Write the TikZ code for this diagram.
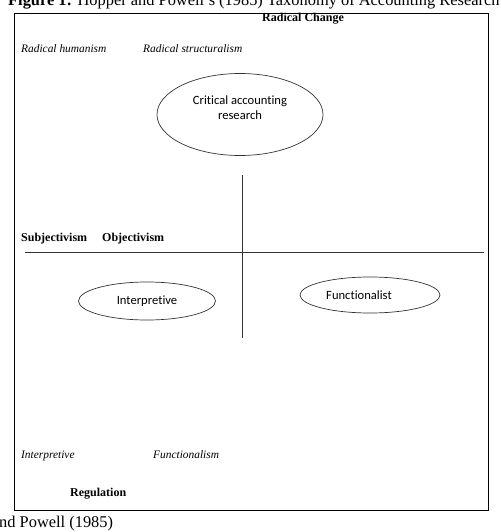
\documentclass[tikz,border=0pt]{standalone}
\usepackage{fontspec}
\setmainfont{Liberation Serif}
\newfontfamily\calibri[Ligatures=NoCommon]{Carlito}
\usetikzlibrary{shapes.geometric,positioning}

\begin{document}
\begin{tikzpicture}[
    x=1pt, y=-1pt,
    oval/.style={draw, ellipse, line width=0.7pt, draw=black!80, inner sep=0pt, font=\calibri\fontsize{12.6}{15}\selectfont, align=center},
    axislabel/.style={inner sep=0pt, anchor=base west, font=\bfseries\fontsize{12}{14}\selectfont},
    paradigm/.style={inner sep=0pt, anchor=base west, font=\itshape\fontsize{11.4}{13}\selectfont},
    axis/.style={line width=0.8pt, draw=black!80},
]
\useasboundingbox (0,0) rectangle (500,532);

% Title (cut at the top)
\node[inner sep=0pt, anchor=base west, font=\fontsize{16.4}{19}\selectfont] (title) at (8,6)
  {\textbf{Figure 1:} Hopper and Powell's (1985) Taxonomy of Accounting Research};

% Frame
\draw[line width=0.8pt] (14,13) rectangle (488,510);

% Top labels
\node[axislabel, anchor=base] (radchange) at (303,22) {Radical Change};
\node[paradigm] (humanism) at (21,53) {Radical humanism};
\node[paradigm] (structuralism) at (143,53) {Radical structuralism};

% Critical accounting research
\node[oval, minimum width=166pt, minimum height=82pt] (critical) at (240,114.5) {};
\node[oval, draw=none, ellipse=false, anchor=center] (criticaltext) at ([yshift=6.5pt]critical.center) {Critical accounting\\research};

% Axes
\coordinate (vtop) at (242,175);
\coordinate (vbot) at (242,338);
\coordinate (hleft) at (25,252);
\coordinate (hright) at (484,252);
\draw[axis] (vtop) -- (vbot);
\draw[axis] (hleft) -- (hright);

\node[axislabel] (subj) at (21,241) {Subjectivism};
\node[axislabel] (obj) at (102,241) {Objectivism};

% Lower ellipses
\node[oval, minimum width=137pt, minimum height=38pt] (interp) at (147,301) {Interpretive};
\node[oval, minimum width=140pt, minimum height=36pt] (funct) at (370,295) {Functionalist\hspace{22pt}};

% Bottom labels
\node[paradigm] (interpretive) at (21,458) {Interpretive};
\node[paradigm] (functionalism) at (153,458) {Functionalism};
\node[axislabel] (regulation) at (70,496) {Regulation};

% Source (cut at the left)
\node[inner sep=0pt, anchor=base west, font=\fontsize{16.4}{19}\selectfont] (source) at (-1,527) {nd Powell (1985)};
\end{tikzpicture}
\end{document}
